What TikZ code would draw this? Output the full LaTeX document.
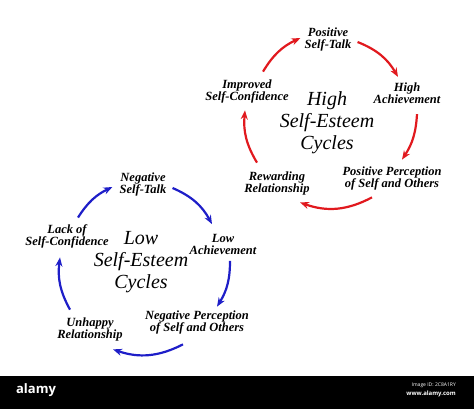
\documentclass[tikz,border=0pt]{standalone}
\usepackage{fontspec}
\setmainfont{Liberation Serif}
\newfontfamily\bandfont{Open Sans}
\usetikzlibrary{arrows.meta}
\definecolor{hired}{RGB}{225,25,30}
\definecolor{loblue}{RGB}{30,30,200}
\begin{document}
\begin{tikzpicture}[x=1pt,y=-1pt,
		cyclelabel/.style={align=center,inner sep=0pt,font=\fontsize{12.5}{12}\selectfont\bfseries\itshape},
		cycletitle/.style={align=center,inner sep=0pt,font=\fontsize{20}{22}\selectfont\itshape},
		hiarrow/.style={draw=hired,line width=2.2pt,-{Stealth[length=9pt,width=7pt]}},
		loarrow/.style={draw=loblue,line width=2.2pt,-{Stealth[length=9pt,width=7pt]}}]
	\useasboundingbox (0,0) rectangle (474,409);
	\node[cycletitle] (hititle) at (327,123) {High\\Self-Esteem\\Cycles};
	\node[cyclelabel] (pst) at (328,39) {Positive\\Self-Talk};
	\node[cyclelabel] (ha) at (407,93) {High\\Achievement};
	\node[cyclelabel] (ppo) at (392,178) {Positive Perception\\of Self and Others};
	\node[cyclelabel] (rr) at (277,183) {Rewarding\\Relationship};
	\node[cyclelabel] (isc) at (247,91) {Improved\\Self-Confidence};
	\draw[hiarrow] ([shift={(6,3)}]pst.east) to[bend left=19] ([shift={(-9,-5.5)}]ha.north);
	\draw[hiarrow] ([shift={(10,10.5)}]ha.south) to[bend left=15] ([shift={(10,-6.5)}]ppo.north);
	\draw[hiarrow] ([shift={(-20,7.5)}]ppo.south) to[bend left=24] ([shift={(23,7.5)}]rr.south);
	\draw[hiarrow] ([shift={(-20,-8.5)}]rr.north) to[bend left=18] ([shift={(-2,7.5)}]isc.south);
	\draw[hiarrow] ([shift={(16,-7.5)}]isc.north) to[bend left=17] ([shift={(-4,-1)}]pst.west);
	\node[cycletitle] (lotitle) at (141,262) {Low\\Self-Esteem\\Cycles};
	\node[cyclelabel] (nst) at (143,184) {Negative\\Self-Talk};
	\node[cyclelabel] (la) at (223,244) {Low\\Achievement};
	\node[cyclelabel] (npo) at (197,322) {Negative Perception\\of Self and Others};
	\node[cyclelabel] (ur) at (90,329) {Unhappy\\Relationship};
	\node[cyclelabel] (lsc) at (67,236) {Lack of\\Self-Confidence};
	\draw[loarrow] ([shift={(6,4)}]nst.east) to[bend left=19] ([shift={(-11,-9.5)}]la.north);
	\draw[loarrow] ([shift={(7,6.5)}]la.south) to[bend left=16] ([shift={(20,-3.5)}]npo.north);
	\draw[loarrow] ([shift={(-14,10.5)}]npo.south) to[bend left=23] ([shift={(23,8.5)}]ur.south);
	\draw[loarrow] ([shift={(-20,-7.5)}]ur.north) to[bend left=18] ([shift={(-7,9.5)}]lsc.south);
	\draw[loarrow] ([shift={(11,-6.5)}]lsc.north) to[bend left=16] ([shift={(-7,3)}]nst.west);
	\fill[black] (0,376) rectangle (474,409);
	\node[white,font=\bandfont\bfseries\fontsize{13}{13}\selectfont] (alamylogo) at (36,390) {alamy};
	\node[white,anchor=east,inner sep=0pt,font=\bandfont\fontsize{5}{5}\selectfont] (imageid) at (456,385) {Image ID: 2C8A1RY};
	\node[white,anchor=east,inner sep=0pt,font=\bandfont\bfseries\fontsize{6}{6}\selectfont] (alamyurl) at (456,394) {www.alamy.com};
\end{tikzpicture}
\end{document}
